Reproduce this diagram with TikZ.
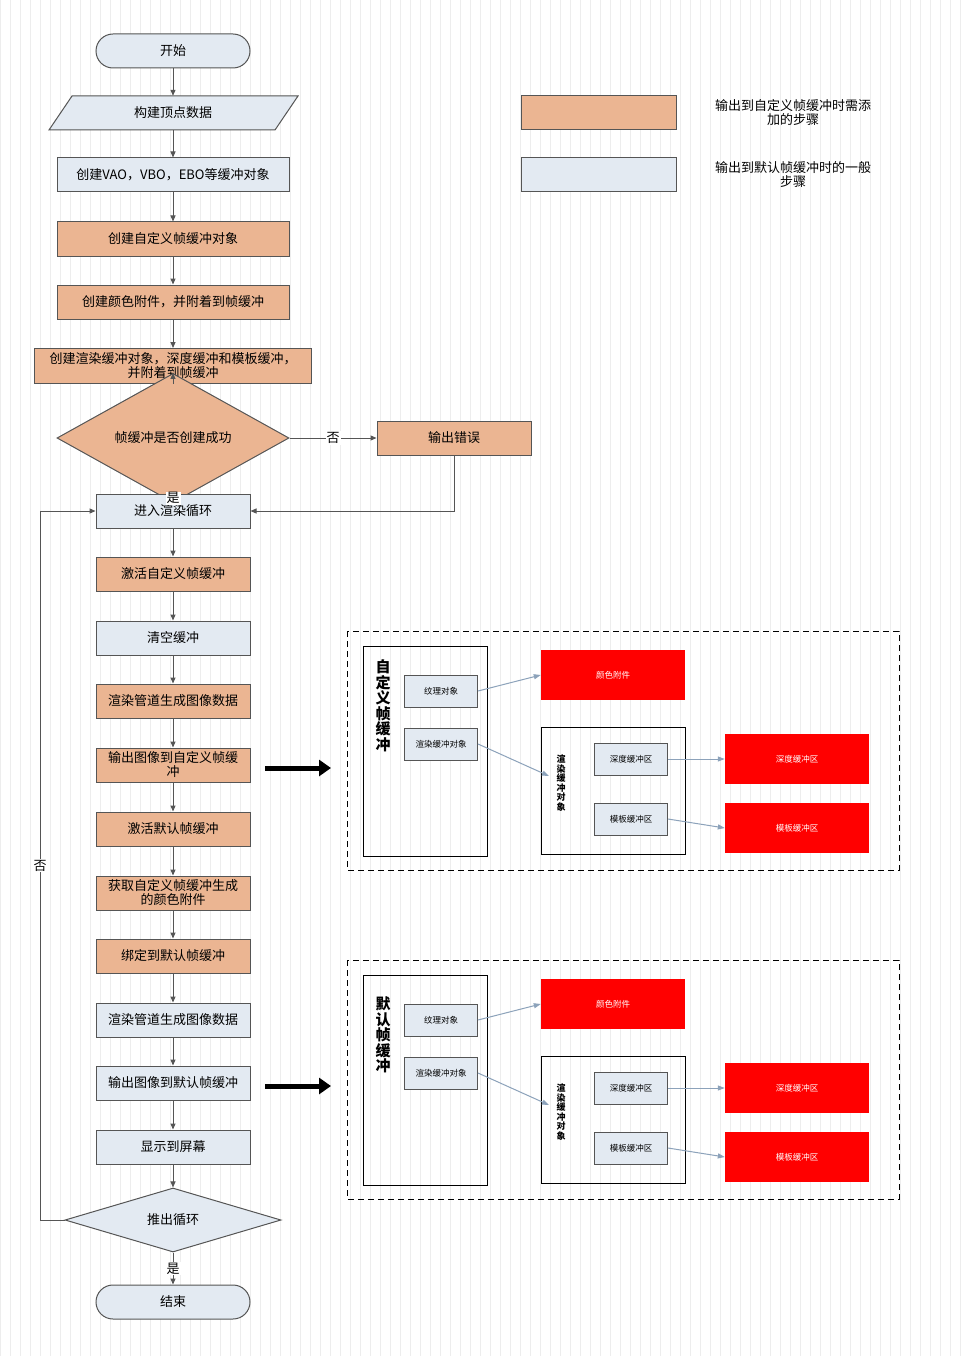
\documentclass[tikz,border=0pt]{standalone}
\usepackage{fontspec}
\setmainfont{Noto Sans CJK SC}
\usetikzlibrary{arrows.meta,shapes.geometric}
\definecolor{org}{HTML}{EBB592}
\definecolor{blu}{HTML}{E3EAF2}
\definecolor{edg}{HTML}{555555}
\definecolor{arr}{HTML}{8CA2BA}
\definecolor{grd}{HTML}{EDEDED}
\begin{document}
\begin{tikzpicture}[x=1pt,y=-1pt,
 base/.style={draw=edg,line width=1pt,inner sep=1pt,align=center,font=\fontsize{13}{14}\selectfont},
 ob/.style={base,fill=org,minimum width=154,minimum height=34},
 bb/.style={base,fill=blu,minimum width=154,minimum height=34},
 wb/.style={base,minimum width=232,minimum height=34},
 fl/.style={-{Triangle[length=6pt,width=5pt]},draw=edg,line width=1pt},
 sb/.style={draw=edg,line width=1pt,fill=blu,minimum width=73,minimum height=32,inner sep=0pt,font=\fontsize{8.5}{9}\selectfont},
 rb/.style={fill=red,minimum width=144,minimum height=50,text=white,font=\fontsize{8.5}{9}\selectfont},
 pa/.style={-{Triangle[length=7pt,width=5pt]},draw=arr,line width=1pt},
 big/.style={-{Triangle[length=12pt,width=16pt]},line width=5pt,black}]
\useasboundingbox (0,0) rectangle (964,1356);
\fill[white] (0,0) rectangle (964,1356);
\draw[grd,step=10] (0,0) grid (964,1356);
% flow
\node[bb,rounded corners=17] (start) at (173,51) {开始};
\fill[blu] (72,96)--(298,96)--(275,130)--(49,130)--cycle;
\draw[edg,line width=1pt] (72,96)--(298,96)--(275,130)--(49,130)--cycle;
\node[minimum width=226,minimum height=34,inner sep=0,font=\fontsize{13}{14}\selectfont] (v) at (173,113) {构建顶点数据};
\node[wb,fill=blu] (vao) at (173,175) {创建VAO，VBO，EBO等缓冲对象};
\node[wb,fill=org] (fbo) at (173,239) {创建自定义帧缓冲对象};
\node[wb,fill=org] (col) at (173,302) {创建颜色附件，并附着到帧缓冲};
\node[base,fill=org,minimum width=277,minimum height=35] (rbo) at (173,366) {创建渲染缓冲对象，深度缓冲和模板缓冲，\\并附着到帧缓冲};
\node[base,diamond,fill=org,minimum width=232,minimum height=52,inner sep=0] (chk) at (173,438) {帧缓冲是否创建成功};
\node[ob] (err) at (454,438) {输出错误};
\node[bb] (loop) at (173,511) {进入渲染循环};
\node[ob] (a1) at (173,574) {激活自定义帧缓冲};
\node[bb] (a2) at (173,638) {清空缓冲};
\node[ob] (a3) at (173,701) {渲染管道生成图像数据};
\node[ob] (a4) at (173,765) {输出图像到自定义帧缓\\冲};
\node[ob] (a5) at (173,829) {激活默认帧缓冲};
\node[ob] (a6) at (173,893) {获取自定义帧缓冲生成\\的颜色附件};
\node[ob] (a7) at (173,956) {绑定到默认帧缓冲};
\node[bb] (a8) at (173,1020) {渲染管道生成图像数据};
\node[bb] (a9) at (173,1083) {输出图像到默认帧缓冲};
\node[bb] (a10) at (173,1147) {显示到屏幕};
\node[base,diamond,fill=blu,minimum width=216,minimum height=52,inner sep=0] (ex) at (173,1220) {推出循环};
\node[bb,rounded corners=17] (end) at (173,1302) {结束};
\draw[fl] (start)--(v);
\draw[fl] (v)--(vao);
\draw[fl] (vao)--(fbo);
\draw[fl] (fbo)--(col);
\draw[fl] (col)--(rbo);
\draw[fl] (rbo)--(chk);
\draw[fl] (chk)--node[fill=white,inner sep=1pt,font=\fontsize{13}{14}\selectfont]{否}(err);
\draw[fl] (chk)--node[fill=white,inner sep=1pt,font=\fontsize{13}{14}\selectfont,pos=0.5]{是}(loop);
\draw[fl] (err.south)|-(loop.east);
\draw[fl] (loop)--(a1);
\draw[fl] (a1)--(a2);
\draw[fl] (a2)--(a3);
\draw[fl] (a3)--(a4);
\draw[fl] (a4)--(a5);
\draw[fl] (a5)--(a6);
\draw[fl] (a6)--(a7);
\draw[fl] (a7)--(a8);
\draw[fl] (a8)--(a9);
\draw[fl] (a9)--(a10);
\draw[fl] (a10)--(ex);
\draw[fl] (ex)--node[fill=white,inner sep=1pt,font=\fontsize{13}{14}\selectfont]{是}(end);
\coordinate (lb) at (40,1220);
\coordinate (lt) at (40,511);
\draw[fl] (ex.west)--(lb)--node[fill=white,inner sep=1pt,font=\fontsize{13}{14}\selectfont]{否}(lt)--(loop.west);
% legend
\node[ob,minimum width=155] (l1) at (598.5,113) {};
\node[bb,minimum width=155] (l2) at (598.5,175) {};
\node[align=center,font=\fontsize{13}{14}\selectfont] (t1) at (793,113) {输出到自定义帧缓冲时需添\\加的步骤};
\node[align=center,font=\fontsize{13}{14}\selectfont] (t2) at (793,175) {输出到默认帧缓冲时的一般\\步骤};
% big arrows
\coordinate (b1s) at (265,768); \coordinate (b1e) at (331,768);
\coordinate (b2s) at (265,1086); \coordinate (b2e) at (331,1086);
\draw[big] (b1s)--(b1e);
\draw[big] (b2s)--(b2e);
% panels
\foreach \dy/\ttl/\p in {0/{自\\定\\义\\帧\\缓\\冲}/A,329/{默\\认\\帧\\缓\\冲}/B}{
\begin{scope}[yshift=-\dy]
\draw[dashed,line width=1pt,dash pattern=on 6pt off 4pt] (347,631) rectangle (899,870);
\node[draw=black,line width=0.8pt,minimum width=124,minimum height=210,inner sep=0] (o\p) at (425,751) {};
\node[align=center,font=\fontsize{15}{15.5}\selectfont\bfseries] (ot\p) at (383,\ifx\p A 711\else 706\fi) {\ttl};
\node[sb] (tx\p) at (441,691) {纹理对象};
\node[sb] (rb\p) at (441,744) {渲染缓冲对象};
\node[rb] (ca\p) at (613,675) {颜色附件};
\node[draw=black,line width=0.8pt,minimum width=144,minimum height=127,inner sep=0] (in\p) at (613,790.5) {};
\node[align=center,font=\fontsize{9}{9.5}\selectfont\bfseries] (it\p) at (561,783) {渲\\染\\缓\\冲\\对\\象};
\node[sb] (dp\p) at (631,759) {深度缓冲区};
\node[sb] (st\p) at (631,819) {模板缓冲区};
\node[rb] (rd\p) at (797,759) {深度缓冲区};
\node[rb] (rs\p) at (797,828) {模板缓冲区};
\coordinate (ie\p) at (549,776);
\draw[pa] (tx\p.east)--(ca\p.west);
\draw[pa] (rb\p.east)--(ie\p);
\draw[pa] (dp\p.east)--(rd\p.west);
\draw[pa] (st\p.east)--(rs\p.west);
\end{scope}}
\end{tikzpicture}
\end{document}
